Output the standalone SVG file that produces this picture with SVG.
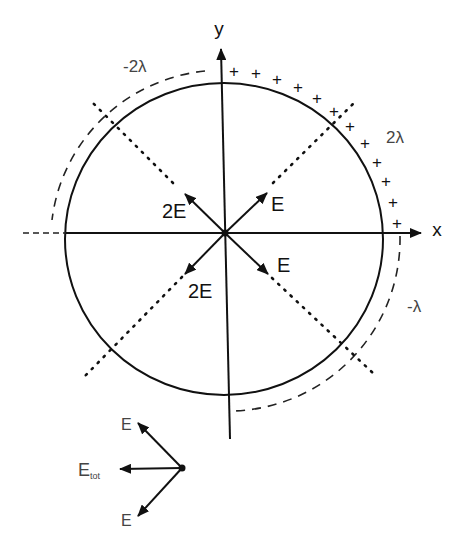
<svg xmlns="http://www.w3.org/2000/svg" width="474" height="552" viewBox="0 0 474 552">
<style>
.ln{stroke:#111;fill:none;stroke-width:2}
.dash{stroke:#222;fill:none;stroke-width:1.6;stroke-dasharray:9 7}
.dot{stroke:#111;fill:none;stroke-width:2.6;stroke-dasharray:1.5 7;stroke-linecap:round}
.t{font-family:"Liberation Sans",Arial,sans-serif;fill:#111}
.lt{font-family:"Liberation Sans",Arial,sans-serif;fill:#444}
.pl{font-family:"Liberation Sans",Arial,sans-serif;fill:#111;font-size:17px;text-anchor:middle}
</style>
<defs>
<marker id="ah" markerUnits="userSpaceOnUse" markerWidth="12" markerHeight="10" refX="11" refY="5" orient="auto">
<path d="M0,0 L12,5 L0,10 z" fill="#111"/>
</marker>
</defs>
<g id="circle">
<ellipse cx="224" cy="239" rx="159" ry="156" class="ln"/>
</g>
<g id="outer-dashed">
<path d="M205,71 A172 170 0 0 0 52,220" class="dash"/>
<path d="M400,236 A172 172 0 0 1 232,411" class="dash"/>
</g>
<g id="diagonals">
<path d="M273,183 L357,100" class="dot"/>
<path d="M173,183 L90,100" class="dot"/>
<path d="M182,277 L85,376" class="dot"/>
<path d="M272,278 L374,374" class="dot"/>
</g>
<g id="axes">
<path d="M23,233 L66,233" stroke="#222" stroke-width="1.4" stroke-dasharray="6 4" fill="none"/>
<path d="M66,233 L421,233" class="ln" marker-end="url(#ah)"/>
<path d="M230,439 L221,49" class="ln" marker-end="url(#ah)"/>
<text x="437" y="236" class="t" font-size="19" text-anchor="middle">x</text>
<text x="219" y="35" class="t" font-size="19" text-anchor="middle">y</text>
</g>
<g id="charges">
<text x="234" y="77" class="pl">+</text>
<text x="256" y="79" class="pl">+</text>
<text x="277" y="85" class="pl">+</text>
<text x="298" y="93" class="pl">+</text>
<text x="317" y="104" class="pl">+</text>
<text x="334" y="117" class="pl">+</text>
<text x="350" y="132" class="pl">+</text>
<text x="365" y="149" class="pl">+</text>
<text x="377" y="168" class="pl">+</text>
<text x="386" y="187" class="pl">+</text>
<text x="393" y="208" class="pl">+</text>
<text x="397" y="229" class="pl">+</text>
</g>
<g id="labels">
<text x="123" y="72" class="lt" font-size="17">-2λ</text>
<text x="386" y="143" class="lt" font-size="17">2λ</text>
<text x="407" y="312" class="lt" font-size="17">-λ</text>
</g>
<g id="field-vectors">
<circle cx="225" cy="233" r="3.5" fill="#111"/>
<path d="M225,233 L267,193" class="ln" marker-end="url(#ah)"/>
<path d="M225,233 L185,194" class="ln" marker-end="url(#ah)"/>
<path d="M225,233 L268,274" class="ln" marker-end="url(#ah)"/>
<path d="M225,233 L185,274" class="ln" marker-end="url(#ah)"/>
<text x="271" y="211" class="t" font-size="20">E</text>
<text x="162" y="218" class="t" font-size="20">2E</text>
<text x="277" y="272" class="t" font-size="20">E</text>
<text x="188" y="298" class="t" font-size="20">2E</text>
</g>
<g id="sum-diagram">
<circle cx="182" cy="468" r="3.5" fill="#111"/>
<path d="M182,468 L138,423" class="ln" marker-end="url(#ah)"/>
<path d="M182,468 L120,469" class="ln" marker-end="url(#ah)"/>
<path d="M182,468 L138,516" class="ln" marker-end="url(#ah)"/>
<text x="121" y="430" class="lt" font-size="16">E</text>
<text x="78" y="476" class="lt" font-size="18">E<tspan font-size="9" dy="3">tot</tspan></text>
<text x="121" y="526" class="lt" font-size="16">E</text>
</g>
</svg>
